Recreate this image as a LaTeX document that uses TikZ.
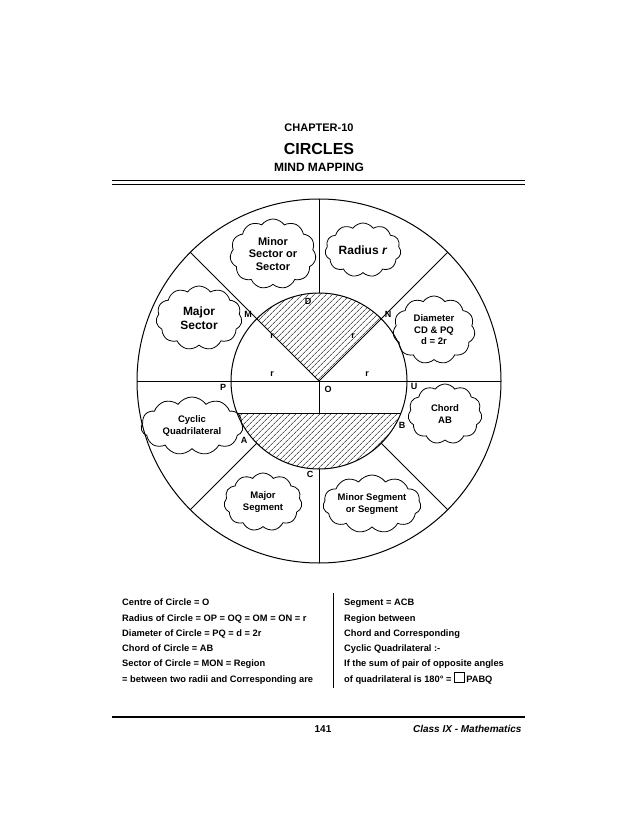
\documentclass[tikz,border=0pt]{standalone}
\usepackage{fontspec}
\setmainfont{Liberation Sans}
\usetikzlibrary{shapes.symbols,patterns.meta,calc}
\begin{document}
\begin{tikzpicture}[x=1pt,y=-1pt,
  cl/.style={cloud,draw,cloud puffs=11,cloud puff arc=110,cloud ignores aspect,align=center,inner sep=0pt,line width=0.8pt},
  lb/.style={font=\fontsize{9}{10}\selectfont\bfseries,inner sep=0pt},
  tx/.style={font=\fontsize{9.3}{10}\selectfont\bfseries,anchor=base west,inner sep=0pt},
  thick/.style={line width=1pt},
  hat/.style={pattern={Lines[angle=45,distance=4pt,line width=0.6pt]}}]
\useasboundingbox (0,0) rectangle (638,826);
\coordinate (O) at (319,381);
% header
\node[font=\fontsize{11}{12}\selectfont\bfseries] (h1) at (319,128) {CHAPTER-10};
\node[font=\fontsize{16}{18}\selectfont\bfseries] (h2) at (319,149) {CIRCLES};
\node[font=\fontsize{12}{13}\selectfont\bfseries] (h3) at (319,167) {MIND MAPPING};
\draw[line width=1pt] (112,181) -- (525,181);
\draw[line width=1pt] (112,185) -- (525,185);
% hatched regions
\fill[hat] (O) -- ++(-45:88) arc[start angle=-45,end angle=-135,radius=88] -- cycle;
\path (O) ++(-82,32) coordinate (Ach) ++(164,0) coordinate (Bch);
\fill[hat] (Ach) -- (Bch) arc[start angle=21.3,end angle=158.7,radius=88] -- cycle;
% circles
\draw[thick] (O) circle[radius=182];
\draw[thick] (O) circle[radius=88];
% spokes
\draw[thick] (319,199) -- (319,293);
\draw[thick] (319,469) -- (319,563);
\draw[thick] (137,381) -- (501,381);
\draw[thick] (319,381) -- (319,413);
\draw[thick] (Ach) -- (Bch);
\foreach \a in {45,135,225,315}{
  \draw[thick] (O) ++(\a:88) -- ++(\a:94);}
\draw[thick] (O) -- ++(-45:88);
\draw[thick] (O) -- ++(-135:88);
% clouds
\node[cl,minimum width=86,minimum height=70,font=\fontsize{11}{12.5}\selectfont\bfseries] (c1) at (273,254) {Minor\\Sector or\\Sector};
\node[cl,minimum width=76,minimum height=54,font=\fontsize{12}{13}\selectfont\bfseries] (c2) at (363,250) {Radius \textit{r}};
\node[cl,minimum width=86,minimum height=64,font=\fontsize{12}{13.5}\selectfont\bfseries] (c3) at (199,318) {Major\\Sector};
\node[cl,minimum width=82,minimum height=68,font=\fontsize{9.5}{11.5}\selectfont\bfseries] (c4) at (434,330) {Diameter\\CD \& PQ\\d = 2r};
\node[cl,minimum width=102,minimum height=58,font=\fontsize{9.5}{11.5}\selectfont\bfseries] (c5) at (192,426) {Cyclic\\Quadrilateral};
\node[cl,minimum width=74,minimum height=60,font=\fontsize{9.5}{11.5}\selectfont\bfseries] (c6) at (445,414) {Chord\\AB};
\node[cl,minimum width=78,minimum height=58,font=\fontsize{9.5}{11.5}\selectfont\bfseries] (c7) at (263,502) {Major\\Segment};
\node[cl,minimum width=98,minimum height=58,font=\fontsize{9.5}{11.5}\selectfont\bfseries] (c8) at (372,504) {Minor Segment\\or Segment};
% point labels
\node[lb] (lD) at (308,301) {D};
\node[lb] (lM) at (248,314) {M};
\node[lb] (lN) at (388,314) {N};
\node[lb] (r1) at (272,336) {r};
\node[lb] (r2) at (353,336) {r};
\node[lb] (r3) at (272,374) {r};
\node[lb] (r4) at (367,374) {r};
\node[lb] (lP) at (223,387) {P};
\node[lb] (lO) at (328,389) {O};
\node[lb] (lU) at (414,386) {U};
\node[lb] (lB) at (402,425) {B};
\node[lb] (lA) at (244,440) {A};
\node[lb] (lC) at (310,474) {C};
% bottom text
\node[tx] (t1) at (122,605.5) {Centre of Circle = O};
\node[tx] (t2) at (122,621) {Radius of Circle = OP = OQ = OM = ON = r};
\node[tx] (t3) at (122,636) {Diameter of Circle = PQ = d = 2r};
\node[tx] (t4) at (122,651.5) {Chord of Circle = AB};
\node[tx] (t5) at (122,666.5) {Sector of Circle = MON = Region};
\node[tx] (t6) at (122,682) {= between two radii and Corresponding are};
\node[tx] (s1) at (344,605.5) {Segment = ACB};
\node[tx] (s2) at (344,621) {Region between};
\node[tx] (s3) at (344,636) {Chord and Corresponding};
\node[tx] (s4) at (344,651.5) {Cyclic Quadrilateral :-};
\node[tx] (s5) at (344,666.5) {If the sum of pair of opposite angles};
\node[tx] (s6) at (344,682) {of quadrilateral is 180° = \tikz[baseline=0pt]\draw[line width=0.6pt] (0,-0.5pt) rectangle (10pt,9.5pt);\,PABQ};
\draw[line width=1pt] (333,593) -- (333,688);
% footer
\draw[line width=1.2pt] (112,717) -- (525,717);
\node[font=\fontsize{10}{11}\selectfont\bfseries] (pg) at (323,729) {141};
\node[font=\fontsize{10}{11}\selectfont\bfseries\itshape,anchor=east] (cls) at (525,729) {Class IX - Mathematics};
\end{tikzpicture}
\end{document}
